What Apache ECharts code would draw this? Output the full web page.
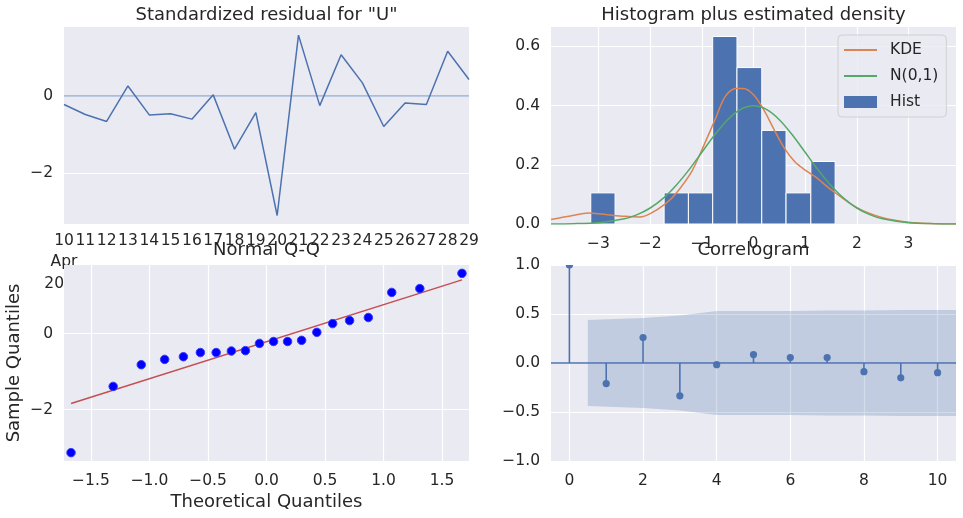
<!DOCTYPE html>
<html>
<head>
<meta charset="utf-8">
<script src="https://cdn.jsdelivr.net/npm/echarts@6/dist/echarts.min.js"></script>
<style>
  html, body { margin: 0; padding: 0; background: #fff; }
  #chart { width: 963px; height: 518px; }
</style>
</head>
<body>
<div id="chart"></div>
<script>
// residual series
const dates = ['2020-04-10', '2020-04-11', '2020-04-12', '2020-04-13', '2020-04-14', '2020-04-15', '2020-04-16',
  '2020-04-17', '2020-04-18', '2020-04-19', '2020-04-20', '2020-04-21', '2020-04-22', '2020-04-23',
  '2020-04-24', '2020-04-25', '2020-04-26', '2020-04-27', '2020-04-28', '2020-04-29']
const residuals = [-0.22, -0.48, -0.66, 0.26, -0.49, -0.46, -0.60, 0.03, -1.38, -0.43,
  -3.10, 1.58, -0.25, 1.07, 0.34, -0.79, -0.18, -0.22, 1.16, 0.43]

// histogram + densities
const histEdges = [-3.15, -2.68, -2.20, -1.73, -1.26, -0.79, -0.32, 0.16, 0.63, 1.11, 1.58]
const histDensity = [0.105, 0, 0, 0.105, 0.105, 0.633, 0.528, 0.316, 0.105, 0.211]
const kdeX = [-3.92, -3.5, -3.2, -3.0, -2.75, -2.5, -2.2, -2.0, -1.7, -1.5, -1.2, -1.0, -0.75, -0.55,
  -0.35, -0.2, 0, 0.2, 0.4, 0.6, 0.8, 1.0, 1.2, 1.5, 2.0, 2.5, 3.0, 3.5, 3.92]
const kdeY = [0.015, 0.029, 0.037, 0.035, 0.030, 0.026, 0.024, 0.035, 0.069, 0.103, 0.176, 0.25, 0.35, 0.43,
  0.457, 0.457, 0.436, 0.385, 0.318, 0.255, 0.21, 0.182, 0.159, 0.116, 0.055, 0.021, 0.006, 0.001, 0.0003]
const normX = [-3.92, -3.5, -3.0, -2.5, -2.25, -2.0, -1.75, -1.5, -1.25, -1.0, -0.75, -0.5, -0.25, 0,
  0.25, 0.5, 0.75, 1.0, 1.25, 1.5, 1.75, 2.0, 2.25, 2.5, 3.0, 3.5, 3.92]
const normY = [0.0002, 0.0009, 0.0044, 0.0175, 0.0317, 0.054, 0.0863, 0.13, 0.1826, 0.242, 0.3011, 0.352, 0.3867, 0.399,
  0.3867, 0.352, 0.3011, 0.242, 0.1826, 0.13, 0.0863, 0.054, 0.0317, 0.0175, 0.0044, 0.0009, 0.0002]

// Q-Q
const qqTheo = [-1.67, -1.31, -1.07, -0.87, -0.71, -0.565, -0.43, -0.30, -0.18, -0.06,
  0.06, 0.18, 0.30, 0.43, 0.565, 0.71, 0.87, 1.07, 1.31, 1.67]
const qqSample = [-3.13, -1.39, -0.82, -0.68, -0.61, -0.50, -0.50, -0.46, -0.45, -0.26,
  -0.21, -0.21, -0.18, 0.03, 0.26, 0.34, 0.42, 1.08, 1.18, 1.58]
const qqLineX = [-1.67, 1.67]
const qqLineY = [-1.84, 1.41]

// correlogram
const acfLags = [0, 1, 2, 3, 4, 5, 6, 7, 8, 9, 10]
const acfValues = [1.0, -0.21, 0.26, -0.335, -0.017, 0.086, 0.055, 0.055, -0.089, -0.151, -0.099]
const bandLags = [0.5, 2, 3, 4, 5, 6, 7, 8, 9, 10.5]
const bandHalf = [0.44, 0.46, 0.485, 0.53, 0.53, 0.53, 0.535, 0.535, 0.54, 0.54]

const FONT = 'DejaVu Sans'
const TXT = '#262626'
const BLUE = '#4c72b0'

const fmt = (d) => (v) => (v < 0 ? '\u2212' : '') + Math.abs(v).toFixed(d)

const valueAxis = (gridIndex, min, max, ticks, digits, extra) => Object.assign({
  type: 'value',
  gridIndex: gridIndex,
  min: min,
  max: max,
  axisLine: { show: false },
  axisTick: { show: false, customValues: ticks },
  splitLine: { show: true, lineStyle: { color: '#ffffff', width: 1.2 } },
  axisLabel: {
    customValues: ticks,
    formatter: fmt(digits),
    color: TXT,
    fontFamily: FONT,
    fontSize: 15.5,
    lineHeight: 18,
    margin: 11,
    hideOverlap: false,
    showMinLabel: true,
    showMaxLabel: true,
  },
}, extra || {})

const titleItem = (text, x, y) => ({
  text: text,
  left: x,
  top: y,
  textAlign: 'center',
  padding: 0,
  textStyle: { fontFamily: FONT, fontSize: 18, fontWeight: 'normal', color: TXT },
})

const gridItem = (left, top, width, height, z) => ({
  left: left, top: top, width: width, height: height,
  show: true, backgroundColor: '#eaeaf2', borderWidth: 0,
  containLabel: false, outerBoundsMode: 'none', z: z || 0,
})

// legend entry for a plain line: hide the marker ECharts adds to line icons
const lineEntry = (name) => ({
  name: name,
  itemStyle: { color: 'rgba(0,0,0,0)', borderColor: 'rgba(0,0,0,0)', borderWidth: 0 },
})

const myChart = echarts.init(document.getElementById('chart'))

const option = {
  backgroundColor: '#ffffff',
  animation: false,
  title: [
    titleItem('Standardized residual for "U"', 266.5, 6),
    titleItem('Histogram plus estimated density', 753.5, 6),
    titleItem('Normal Q-Q', 266.5, 241.5),
    titleItem('Correlogram', 753.5, 241.5),
  ],
  legend: {
    left: 838,
    top: 35,
    orient: 'vertical',
    padding: [6, 8, 6, 5],
    itemGap: 8,
    itemWidth: 33,
    itemHeight: 12,
    backgroundColor: 'rgba(234,234,242,0.8)',
    borderColor: '#d0d0d0',
    borderWidth: 1,
    borderRadius: 4,
    textStyle: { fontFamily: FONT, fontSize: 15.5, color: TXT, lineHeight: 18, padding: [0, 0, 0, 8] },
    data: [lineEntry('KDE'), lineEntry('N(0,1)'), { name: 'Hist', icon: 'rect' }],
  },
  grid: [
    gridItem(64, 27, 405, 197),
    gridItem(551, 27, 405, 197),
    gridItem(64, 265, 405, 196, 3),
    gridItem(551, 265, 405, 196),
  ],
  xAxis: [
    {
      type: 'category',
      gridIndex: 0,
      data: dates,
      boundaryGap: false,
      axisLine: { show: false },
      axisTick: { show: false },
      splitLine: { show: false },
      axisLabel: {
        interval: 0,
        hideOverlap: false,
        color: TXT,
        fontFamily: FONT,
        fontSize: 15.5,
        lineHeight: 21.5,
        margin: 6,
        formatter: (value, index) => {
          const day = value.slice(8)
          return index === 0 ? day + '\nApr\n2020' : day
        },
      },
    },
    valueAxis(1, -3.92, 3.92, [-3, -2, -1, 0, 1, 2, 3], 0, {}),
    valueAxis(2, -1.73, 1.73, [-1.5, -1.0, -0.5, 0, 0.5, 1.0, 1.5], 1, {
      z: 4,
      name: 'Theoretical Quantiles',
      nameLocation: 'middle',
      nameGap: 32,
      nameTextStyle: { fontFamily: FONT, fontSize: 18, color: TXT, lineHeight: 18 },
    }),
    valueAxis(3, -0.5, 10.5, [0, 2, 4, 6, 8, 10], 0, {}),
  ],
  yAxis: [
    valueAxis(0, -3.32, 1.79, [-2, 0], 0, {}),
    valueAxis(1, 0, 0.665, [0, 0.2, 0.4, 0.6], 1, {}),
    valueAxis(2, -3.35, 1.80, [-2, 0], 0, {
      z: 4,
      name: 'Sample Quantiles',
      nameLocation: 'middle',
      nameGap: 41,
      nameTextStyle: { fontFamily: FONT, fontSize: 18, color: TXT, lineHeight: 18 },
    }),
    valueAxis(3, -1, 1, [-1, -0.5, 0, 0.5, 1], 1, {}),
  ],
  series: [
    {
      name: 'resid',
      type: 'line',
      xAxisIndex: 0,
      yAxisIndex: 0,
      data: residuals,
      symbol: 'none',
      lineStyle: { color: BLUE, width: 1.5 },
      markLine: {
        silent: true,
        symbol: 'none',
        label: { show: false },
        lineStyle: { color: 'rgba(76,114,176,0.5)', width: 1.5, type: 'solid' },
        data: [{ yAxis: 0 }],
      },
    },
    {
      name: 'Hist',
      type: 'custom',
      xAxisIndex: 1,
      yAxisIndex: 1,
      itemStyle: { color: BLUE },
      data: histDensity.map((h, i) => [histEdges[i], histEdges[i + 1], h]),
      encode: { x: [0, 1], y: 2 },
      renderItem: (params, api) => {
        const h = api.value(2)
        if (!h) return null
        const p0 = api.coord([api.value(0), h])
        const p1 = api.coord([api.value(1), 0])
        return {
          type: 'rect',
          shape: { x: p0[0], y: p0[1], width: p1[0] - p0[0], height: p1[1] - p0[1] },
          style: { fill: BLUE, stroke: '#ffffff', lineWidth: 1 },
        }
      },
    },
    {
      name: 'KDE',
      type: 'line',
      xAxisIndex: 1,
      yAxisIndex: 1,
      data: kdeX.map((x, i) => [x, kdeY[i]]),
      smooth: 0.3,
      symbol: 'none',
      z: 3,
      itemStyle: { color: '#dd8452' },
      lineStyle: { color: '#dd8452', width: 1.5 },
    },
    {
      name: 'N(0,1)',
      type: 'line',
      xAxisIndex: 1,
      yAxisIndex: 1,
      data: normX.map((x, i) => [x, normY[i]]),
      smooth: 0.3,
      symbol: 'none',
      z: 3,
      itemStyle: { color: '#55a868' },
      lineStyle: { color: '#55a868', width: 1.5 },
    },
    {
      name: 'qq',
      type: 'scatter',
      xAxisIndex: 2,
      yAxisIndex: 2,
      z: 6,
      data: qqTheo.map((x, i) => [x, qqSample[i]]),
      symbolSize: 8.5,
      itemStyle: { color: '#0000ff', borderColor: '#3a3aff', borderWidth: 1, opacity: 1 },
    },
    {
      name: 'qqline',
      type: 'line',
      xAxisIndex: 2,
      yAxisIndex: 2,
      z: 5,
      data: qqLineX.map((x, i) => [x, qqLineY[i]]),
      symbol: 'none',
      lineStyle: { color: '#c44e52', width: 1.5 },
    },
    {
      name: 'band',
      type: 'custom',
      xAxisIndex: 3,
      yAxisIndex: 3,
      data: [[bandLags[0], 0]],
      renderItem: (params, api) => {
        const pts = bandLags.map((x, i) => api.coord([x, bandHalf[i]]))
        for (let i = bandLags.length - 1; i >= 0; i--) {
          pts.push(api.coord([bandLags[i], -bandHalf[i]]))
        }
        return {
          type: 'polygon',
          shape: { points: pts },
          style: { fill: 'rgba(76,114,176,0.25)' },
        }
      },
    },
    {
      name: 'acf',
      type: 'custom',
      xAxisIndex: 3,
      yAxisIndex: 3,
      z: 4,
      clip: true,
      data: acfLags.map((l, i) => [l, acfValues[i]]),
      renderItem: (params, api) => {
        const p0 = api.coord([api.value(0), 0])
        const p1 = api.coord([api.value(0), api.value(1)])
        return {
          type: 'group',
          children: [
            { type: 'line', shape: { x1: p0[0], y1: p0[1], x2: p1[0], y2: p1[1] }, style: { stroke: BLUE, lineWidth: 1.6 } },
            { type: 'circle', shape: { cx: p1[0], cy: p1[1], r: 3.6 }, style: { fill: BLUE } },
          ],
        }
      },
      markLine: {
        silent: true,
        symbol: 'none',
        label: { show: false },
        lineStyle: { color: BLUE, width: 1.6, type: 'solid' },
        data: [{ yAxis: 0 }],
      },
    },
  ],
}

myChart.setOption(option)
</script>
</body>
</html>
